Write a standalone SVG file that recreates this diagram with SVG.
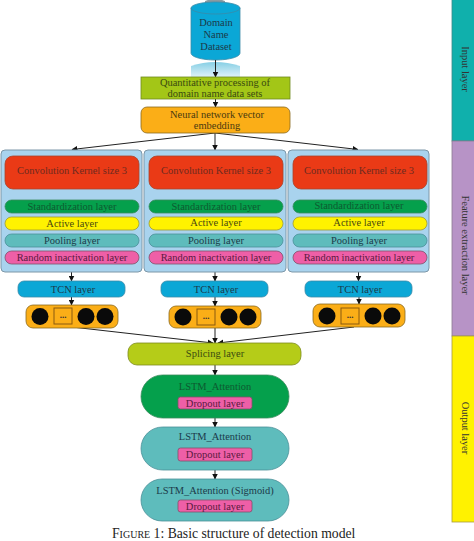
<svg xmlns="http://www.w3.org/2000/svg" width="474" height="541" viewBox="0 0 474 541">
<style>
text{font-family:"Liberation Serif","Times New Roman",serif;font-size:10.450px;text-anchor:middle;fill:#1c3a4a}
.panel{fill:#a9d3ee;stroke:#7d97a8;stroke-width:1}
.red{fill:#ea3a16;stroke:#a8442c;stroke-width:.8}
.green{fill:#05a04c;stroke:#3a8a5c;stroke-width:.8}
.yellow{fill:#fff200;stroke:#a09a30;stroke-width:.8}
.teal{fill:#5ebcbc;stroke:#4a8f98;stroke-width:.8}
.pink{fill:#ee5fa7;stroke:#80506a;stroke-width:.8}
.blue{fill:#0ba7d6;stroke:#3a8aa8;stroke-width:.8}
.orange{fill:#fbae17;stroke:#8a6a20;stroke-width:.8}
.lime{fill:#b5cc18;stroke:#7d8c20;stroke-width:.8}
.limeg{fill:#a3c617;stroke:#6f8a20;stroke-width:.8}
.dot{fill:#0a0a0a}
.sq{fill:#fbae17;stroke:#8a5a10;stroke-width:1}
text.dots{font-size:9px;font-weight:bold;fill:#333}
.conn{stroke:#222;stroke-width:1;fill:none;marker-end:url(#a)}
text.side{fill:#333}
text.tr{fill:#6e2a20}
text.tg{fill:#0d5a30}
text.ty{fill:#4a4a10}
text.tp{fill:#5a1a40}
text.tl{fill:#3a4a10}
text.to{fill:#4a3a10}
text.cap{text-anchor:start;font-size:13.700px;fill:#222;font-variant:small-caps}
</style>
<defs>
<marker id="a" markerUnits="userSpaceOnUse" markerWidth="6" markerHeight="6" refX="5.500" refY="3" orient="auto"><path d="M0 0L6 3L0 6z" fill="#111"/></marker>
<linearGradient id="refl" x1="0" y1="0" x2="0" y2="1"><stop offset="0" stop-color="#86cfe5"/><stop offset="1" stop-color="#e0f2f8"/></linearGradient>
</defs>

<g id="side-bars">
<rect x="452" y="-1" width="23" height="142" fill="#10b0ac" stroke="#3f8a88" stroke-width=".8"/>
<rect x="452" y="141" width="23" height="195" fill="#b793c6" stroke="#8a7a90" stroke-width=".8"/>
<rect x="452" y="336" width="23" height="186" fill="#fff200" stroke="#a89c40" stroke-width=".8"/>
<text class="side" transform="translate(462 69) rotate(90)">Input layer</text>
<text class="side" transform="translate(462 245) rotate(90)">Feature extraction layer</text>
<text class="side" transform="translate(462 428) rotate(90)">Output layer</text>
</g>

<g id="dataset">
<path d="M205 1Q215-3 225 1V4H205z" fill="#8a9aa0"/>
<path d="M191 66Q215 58 240 66V77H191z" fill="url(#refl)"/>
<path d="M191 8V53C191 57 202 60 215.500 60S240 57 240 53V8z" class="blue"/>
<ellipse cx="215.500" cy="8" rx="24.500" ry="6" class="blue"/>
<text x="216" y="26">Domain</text>
<text x="216" y="38">Name</text>
<text x="216" y="50">Dataset</text>
</g>

<g id="connectors">
<path class="conn" d="M215.500 60V77"/>
<path class="conn" d="M215.500 99V107"/>
<path class="conn" d="M215 133L72 149.500"/>
<path class="conn" d="M215 133V150"/>
<path class="conn" d="M215 133L358 149.500"/>
<path class="conn" d="M71.500 272V281"/>
<path class="conn" d="M215 272V281"/>
<path class="conn" d="M358.500 272V281"/>
<path class="conn" d="M71.500 297V305"/>
<path class="conn" d="M215 297V306"/>
<path class="conn" d="M359 297V304"/>
<path class="conn" d="M72 327L213 343"/>
<path class="conn" d="M215 328V343"/>
<path class="conn" d="M354 327L218 343"/>
<path class="conn" d="M215 365V375"/>
<path class="conn" d="M215 418V427"/>
<path class="conn" d="M215 470V479"/>
</g>

<g id="quant">
<rect x="141" y="77" width="149" height="22" class="limeg"/>
<text class="tl" x="215" y="86">Quantitative processing of</text>
<text class="tl" x="215" y="97">domain name data sets</text>
</g>
<g id="embed">
<rect x="141" y="107" width="149" height="26" rx="6" class="orange"/>
<text class="to" x="217" y="117.500">Neural network vector</text>
<text class="to" x="217" y="129">embedding</text>
</g>

<g id="panel-1">
<rect x="1" y="150" width="141" height="122" rx="4" class="panel"/>
<rect x="5" y="156" width="134" height="33" rx="8" class="red"/>
<text class="tr" x="72" y="174">Convolution Kernel size 3</text>
<rect x="5" y="200" width="134" height="13" rx="6.500" class="green"/>
<text class="tg" x="72" y="210">Standardization layer</text>
<rect x="5" y="217" width="134" height="13" rx="6.500" class="yellow"/>
<text class="ty" x="72" y="227">Active layer</text>
<rect x="5" y="234" width="134" height="13" rx="6.500" class="teal"/>
<text x="72" y="244">Pooling layer</text>
<rect x="5" y="251" width="134" height="13" rx="6.500" class="pink"/>
<text class="tp" x="72" y="261">Random inactivation layer</text>
</g>
<g id="panel-2">
<rect x="144" y="150" width="142" height="122" rx="4" class="panel"/>
<rect x="149" y="156" width="134" height="33" rx="8" class="red"/>
<text class="tr" x="216" y="174">Convolution Kernel size 3</text>
<rect x="149" y="200" width="134" height="13" rx="6.500" class="green"/>
<text class="tg" x="216" y="210">Standardization layer</text>
<rect x="149" y="217" width="134" height="13" rx="6.500" class="yellow"/>
<text class="ty" x="216" y="226">Active layer</text>
<rect x="149" y="234" width="134" height="13" rx="6.500" class="teal"/>
<text x="216" y="244">Pooling layer</text>
<rect x="149" y="251" width="134" height="13" rx="6.500" class="pink"/>
<text class="tp" x="216" y="261">Random inactivation layer</text>
</g>
<g id="panel-3">
<rect x="288" y="150" width="141" height="122" rx="4" class="panel"/>
<rect x="293" y="156" width="134" height="33" rx="8" class="red"/>
<text class="tr" x="359" y="174">Convolution Kernel size 3</text>
<rect x="293" y="200" width="134" height="13" rx="6.500" class="green"/>
<text class="tg" x="359" y="208.500">Standardization layer</text>
<rect x="293" y="217" width="134" height="13" rx="6.500" class="yellow"/>
<text class="ty" x="359" y="226">Active layer</text>
<rect x="293" y="234" width="134" height="13" rx="6.500" class="teal"/>
<text x="359" y="244">Pooling layer</text>
<rect x="293" y="251" width="134" height="13" rx="6.500" class="pink"/>
<text class="tp" x="359" y="261">Random inactivation layer</text>
</g>

<g id="tcn-1"><rect x="18" y="281" width="107" height="16" rx="6" class="blue"/><text x="73" y="292.500">TCN layer</text></g>
<g id="tcn-2"><rect x="161" y="281" width="107" height="16" rx="6" class="blue"/><text x="216" y="292.500">TCN layer</text></g>
<g id="tcn-3"><rect x="305" y="281" width="107" height="16" rx="6" class="blue"/><text x="360" y="292.500">TCN layer</text></g>

<g id="units-1">
<rect x="26" y="305" width="92" height="23" rx="7" class="orange"/>
<circle class="dot" cx="40" cy="316.500" r="8.500"/>
<rect class="sq" x="54" y="308" width="18" height="16"/>
<text class="dots" x="63" y="318">...</text>
<circle class="dot" cx="86" cy="316.500" r="8.500"/>
<circle class="dot" cx="105" cy="316.500" r="8.500"/>
</g>
<g id="units-2">
<rect x="169" y="306" width="92" height="22" rx="7" class="orange"/>
<circle class="dot" cx="183" cy="317" r="8.500"/>
<rect class="sq" x="197" y="309" width="18" height="16"/>
<text class="dots" x="206" y="319">...</text>
<circle class="dot" cx="229" cy="317" r="8.500"/>
<circle class="dot" cx="248" cy="317" r="8.500"/>
</g>
<g id="units-3">
<rect x="313" y="304" width="92" height="23" rx="7" class="orange"/>
<circle class="dot" cx="327" cy="316" r="8.500"/>
<rect class="sq" x="341" y="308" width="18" height="16"/>
<text class="dots" x="350" y="318">...</text>
<circle class="dot" cx="373" cy="316" r="8.500"/>
<circle class="dot" cx="392" cy="316" r="8.500"/>
</g>

<g id="splicing">
<rect x="128" y="343" width="173" height="22" rx="9" class="lime"/>
<text class="tl" x="215" y="357">Splicing layer</text>
</g>
<g id="lstm-1">
<rect x="141" y="375" width="148" height="43" rx="21.500" class="green"/>
<text class="tg" x="215" y="390">LSTM_Attention</text>
<rect x="178" y="397" width="74" height="12" rx="2.500" class="pink"/>
<text class="tp" x="215" y="406.500">Dropout layer</text>
</g>
<g id="lstm-2">
<rect x="141" y="427" width="148" height="43" rx="21.500" class="teal"/>
<text x="215" y="440">LSTM_Attention</text>
<rect x="178" y="448" width="74" height="13" rx="2.500" class="pink"/>
<text class="tp" x="215" y="458">Dropout layer</text>
</g>
<g id="lstm-3">
<rect x="141" y="479" width="148" height="42" rx="21" class="teal"/>
<text x="215" y="494">LSTM_Attention (Sigmoid)</text>
<rect x="178" y="500" width="74" height="12" rx="2.500" class="pink"/>
<text class="tp" x="215" y="510">Dropout layer</text>
</g>

<text class="cap" x="112" y="537.500">Figure 1: <tspan style="font-variant:normal">Basic structure of detection model</tspan></text>
</svg>
